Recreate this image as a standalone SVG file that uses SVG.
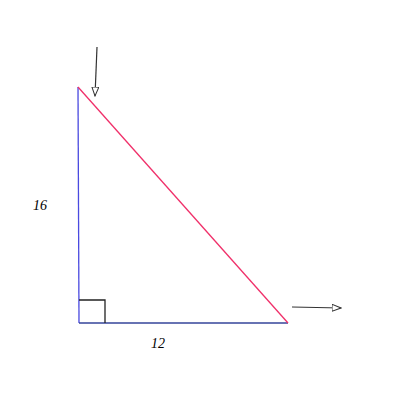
<svg xmlns="http://www.w3.org/2000/svg" width="400" height="400" viewBox="0 0 400 400">
<style>
.lbl{font-family:"Liberation Serif","Times New Roman",serif;font-style:italic;font-size:14px;fill:#000}
.arr{stroke:#333;stroke-width:1.2;fill:none}
</style>
<defs>
<marker id="ah" viewBox="0 0 10 8" refX="9" refY="4" markerWidth="10" markerHeight="8" markerUnits="userSpaceOnUse" orient="auto">
<path d="M0,0.5 L9,4 L0,7.5 Z" fill="#fff" stroke="#333" stroke-width="1"/>
</marker>
</defs>
<rect width="400" height="400" fill="#fff"/>
<g id="triangle">
<line x1="78" y1="87" x2="79" y2="323" stroke="#4a4ae0" stroke-width="1.3"/>
<line x1="79" y1="323" x2="288" y2="323" stroke="#34449a" stroke-width="1.3"/>
<line x1="78" y1="87" x2="288" y2="323" stroke="#f0306a" stroke-width="1.3"/>
</g>
<g id="right-angle">
<polyline points="79,300 105,300 105,323" fill="none" stroke="#222" stroke-width="1.3"/>
</g>
<g id="connectors">
<line class="arr" x1="97" y1="47" x2="95" y2="96" marker-end="url(#ah)"/>
<line class="arr" x1="292" y1="307" x2="341" y2="308" marker-end="url(#ah)"/>
</g>
<g id="labels">
<text class="lbl" x="33" y="210">16</text>
<text class="lbl" x="151" y="348">12</text>
</g>
</svg>
